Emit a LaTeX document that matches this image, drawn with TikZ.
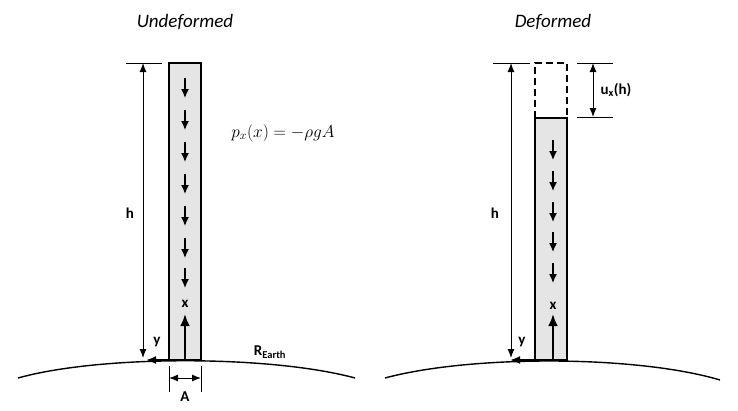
\documentclass[tikz,border=0pt]{standalone}
\usepackage{fontspec}
\setmainfont{Carlito}
\usetikzlibrary{arrows.meta}
\begin{document}
\begin{tikzpicture}[x=1pt,y=-1pt,
  col/.style={fill=black!10,draw=black,line width=1.2pt},
  dim/.style={line width=1pt,{Latex[length=9pt,width=7pt]}-{Latex[length=9pt,width=7pt]}},
  load/.style={line width=1.4pt,-{Latex[length=9pt,width=8pt]}},
  ax/.style={line width=2.6pt,-{Latex[length=12pt,width=10pt]}},
  ground/.style={line width=1.4pt},
  lbl/.style={font=\bfseries\fontsize{15}{17}\selectfont}]
\useasboundingbox (0,0) rectangle (738,410);
% titles
\node[font=\itshape\fontsize{19}{22}\selectfont] (t1) at (185,22) {Undeformed};
\node[font=\itshape\fontsize{19}{22}\selectfont] (t2) at (553,22) {Deformed};
% ---- left
\draw[ground] (18,378) .. controls (100,355) and (270,355) .. (355,378);
\filldraw[col] (169,63) rectangle (201,360);
\foreach \y in {78,110,142,174,206,238,268}
  \draw[load] (185,\y) -- ++(0,20);
\node[lbl] (x1) at (185,304) {x};
\draw[ax] (185,361) -- (185,314);
\draw[line width=1.8pt,-{Latex[length=10pt,width=8pt]}] (185,360) -- (146,360);
\node[lbl] (y1) at (157,342) {y};
\draw[line width=1pt] (126,63) -- (162,63);
\draw[dim] (143,63) -- (143,358);
\node[lbl] (h1) at (130,213) {h};
\draw[line width=1pt] (169,366) -- (169,392) (201,366) -- (201,392);
\draw[dim] (169,378) -- (201,378);
\node[lbl] (A) at (185,397) {A};
\node[lbl] (R) at (270,352) {R\textsubscript{Earth}};
\node (px) at (283,133) {\fontsize{18}{21}\selectfont$p_x(x) = -\rho g A$};
% ---- right
\draw[ground] (385,378) .. controls (470,355) and (636,355) .. (720,380);
\filldraw[col] (535,118) rectangle (567,360);
\draw[line width=1.2pt,dash pattern=on 7pt off 4pt] (535,118) -- (535,63) -- (567,63) -- (567,118);
\foreach \y in {140,171,202,232,263}
  \draw[load] (553,\y) -- ++(0,20);
\node[lbl] (x2) at (553,306) {x};
\draw[ax] (553,361) -- (553,314);
\draw[line width=1.8pt,-{Latex[length=10pt,width=8pt]}] (553,360) -- (510,360);
\node[lbl] (y2) at (522,342) {y};
\draw[line width=1pt] (493,63) -- (530,63);
\draw[dim] (511,63) -- (511,358);
\node[lbl] (h2) at (495,213) {h};
\draw[line width=1pt] (577,63) -- (613,63) (577,117) -- (613,117);
\draw[dim] (593,63) -- (593,117);
\node[lbl] (u) at (616,90) {u\textsubscript{x}(h)};
\end{tikzpicture}
\end{document}
